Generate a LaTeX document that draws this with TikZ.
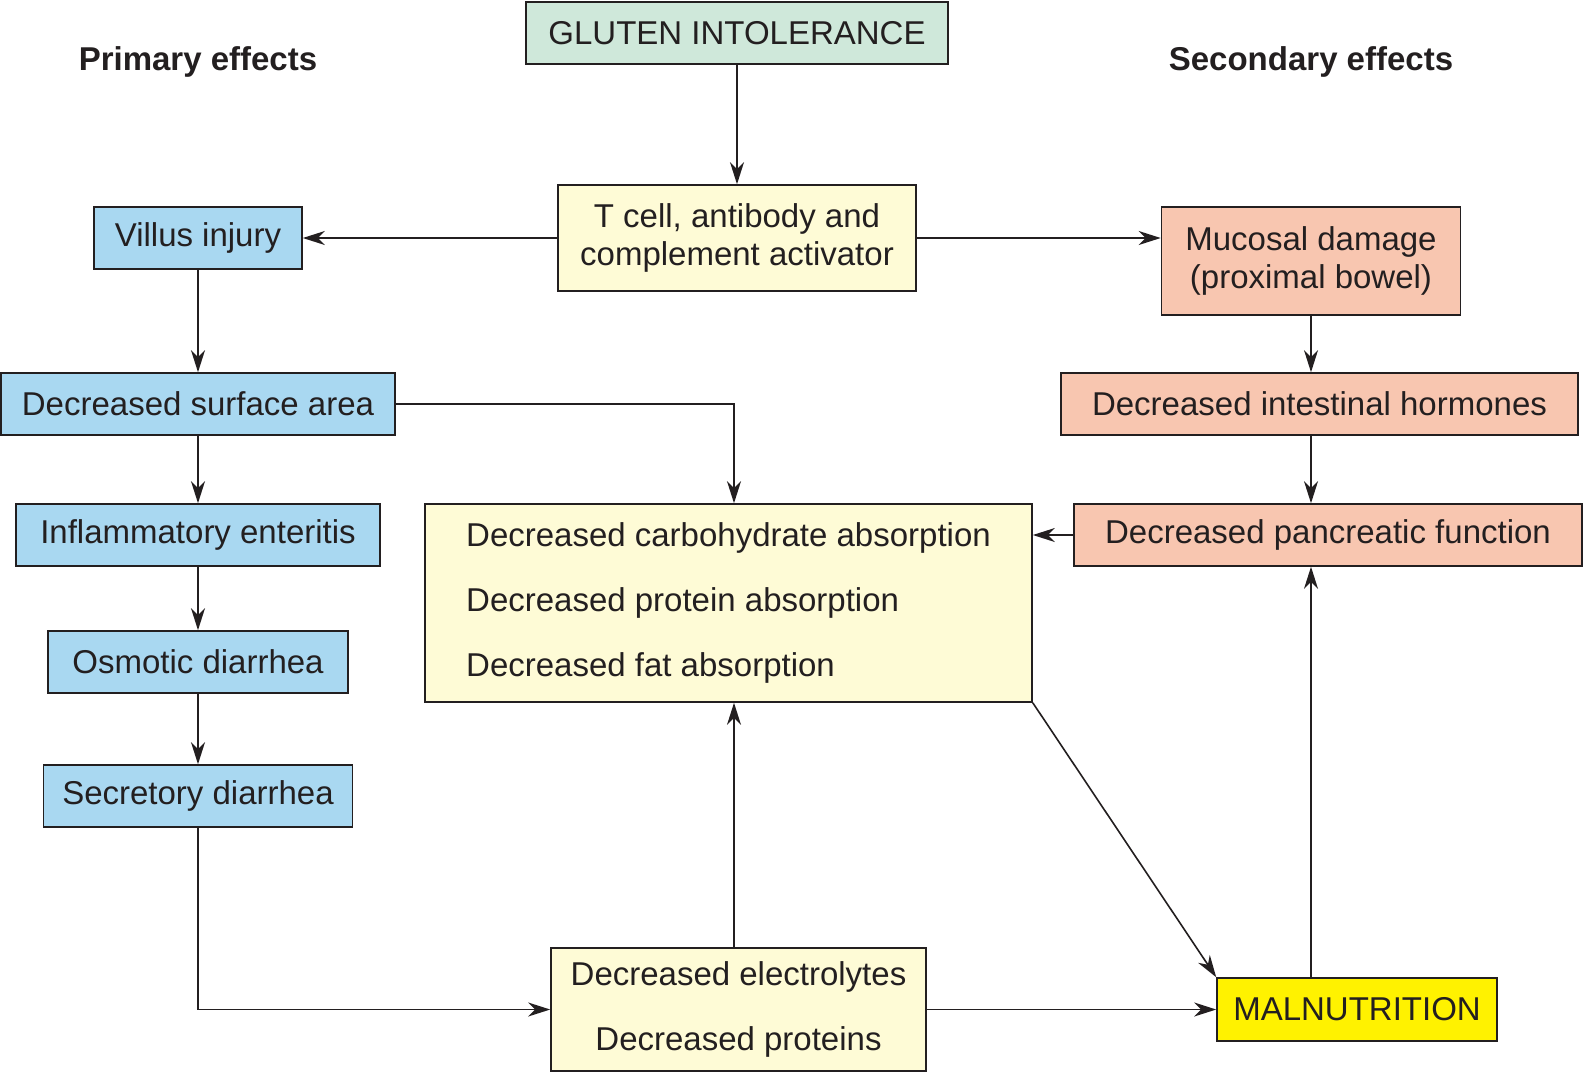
\documentclass[tikz,border=0pt]{standalone}
\usepackage{fontspec}
\setmainfont{Liberation Sans}
\usetikzlibrary{arrows.meta,positioning,calc}

\definecolor{mint}{HTML}{CFE8DA}
\definecolor{cream}{HTML}{FEFBD6}
\definecolor{skyb}{HTML}{A9D8F1}
\definecolor{salmon}{HTML}{F8C6B0}
\definecolor{lemon}{HTML}{FFF200}
\definecolor{ink}{HTML}{231F20}

\begin{document}
\begin{tikzpicture}[
    x=1pt, y=-1pt,
    box/.style={draw=ink, line width=1.6pt, inner sep=0pt, align=center, font=\fontsize{33}{38}\selectfont, text=ink},
    prim/.style={box, fill=skyb, minimum height=62pt},
    secd/.style={box, fill=salmon},
    mid/.style={box, fill=cream},
    hdr/.style={font=\fontsize{33}{38}\selectfont\bfseries, text=ink},
    arr/.style={-{Stealth[length=22pt, width=14pt, inset=7pt]}, line width=1.6pt, draw=ink}
]
\useasboundingbox (0,0) rectangle (1584,1072);

% headings
\node[hdr] (prh) at (198,62) {Primary effects};
\node[hdr] (sch) at (1311,62) {Secondary effects};

% centre column
\node[box, fill=mint, minimum width=422pt, minimum height=62pt] (gluten) at (737,33) {GLUTEN INTOLERANCE};
\node[mid, minimum width=358pt, minimum height=106pt] (tcell) at (737,238) {T cell, antibody and\\complement activator};
\node[mid, minimum width=607pt, minimum height=198pt, align=left] (absorb) at (728.5,603)
    {Decreased carbohydrate absorption\\[27pt]Decreased protein absorption\\[27pt]Decreased fat absorption};
\node[mid, minimum width=375pt, minimum height=123pt] (electro) at (738.5,1009.5)
    {Decreased electrolytes\\[27pt]Decreased proteins};
\node[box, fill=lemon, minimum width=280pt, minimum height=63pt] (malnut) at (1357,1009.5) {MALNUTRITION};

% primary effects
\node[prim, minimum width=208pt] (villus) at (198,238) {Villus injury};
\node[prim, minimum width=394pt] (surface) at (198,404) {Decreased surface area};
\node[prim, minimum width=364pt] (enteritis) at (198,535) {Inflammatory enteritis};
\node[prim, minimum width=300pt] (osmotic) at (198,662) {Osmotic diarrhea};
\node[prim, minimum width=309pt] (secretory) at (198,796) {Secretory diarrhea};

% secondary effects
\node[secd, minimum width=299pt, minimum height=108pt] (mucosal) at (1311,261) {Mucosal damage\\(proximal bowel)};
\node[secd, minimum width=517pt, minimum height=62pt] (hormones) at (1319.5,404) {Decreased intestinal hormones};
\node[secd, minimum width=508pt, minimum height=62pt] (pancreas) at (1328,535) {Decreased pancreatic function};

\coordinate (spine) at (734,0);

\draw[arr] (gluten) -- (tcell);
\draw[arr] (tcell) -- (villus);
\draw[arr] (tcell.east) -- (tcell.east -| mucosal.west);
\draw[arr] (villus) -- (surface);
\draw[arr] (surface.east) -| (spine |- absorb.north);
\draw[arr] (surface) -- (enteritis);
\draw[arr] (enteritis) -- (osmotic);
\draw[arr] (osmotic) -- (secretory);
\draw[arr] (secretory) |- (electro);
\draw[arr] (electro.north -| spine) -- (spine |- absorb.south);
\draw[arr] (electro) -- (malnut);
\draw[arr] (absorb.south east) -- (malnut.north west);
\draw[arr] (mucosal) -- (mucosal |- hormones.north);
\draw[arr] (hormones.south -| mucosal) -- (mucosal |- pancreas.north);
\draw[arr] (malnut.north -| mucosal) -- (mucosal |- pancreas.south);
\draw[arr] (pancreas) -- (pancreas -| absorb.east);
\end{tikzpicture}
\end{document}
